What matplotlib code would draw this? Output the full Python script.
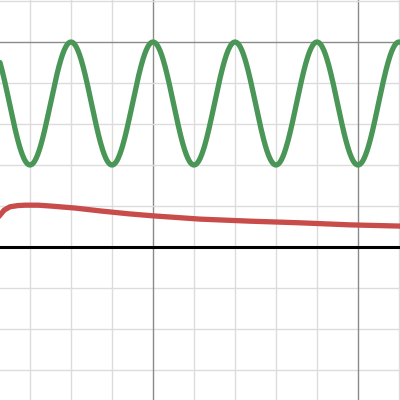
import numpy as np
import matplotlib
matplotlib.use("Agg")
import matplotlib.pyplot as plt

# green: periodic curve parameters (offset, amplitude, period)
green_offset = 3.5
green_amp = 1.5
green_period = 2.0

red_x = [-3.73, -3.63, -3.49, -3.30, -3.12, -2.80, -2.51, -1.90, -1.29, -0.60, 0.0, 1.15, 2.37, 3.59, 4.80, 6.02]
red_y = [0.78, 0.90, 0.98, 1.01, 1.02, 1.02, 1.00, 0.95, 0.88, 0.81, 0.76, 0.68, 0.63, 0.59, 0.54, 0.51]

fig = plt.figure(figsize=(4, 4), dpi=100)
ax = fig.add_axes([0, 0, 1, 1])
xmin, xmax = -153/41, 247/41
ymin, ymax = -153/41, 247/41
ax.set_xlim(xmin, xmax)
ax.set_ylim(ymin, ymax)

for v in np.arange(-4, 7):
    major = v % 5 == 0
    ax.axvline(v, color="#8a8a8a" if major else "#dcdcdc", lw=1.0, zorder=0)
    ax.axhline(v, color="#8a8a8a" if major else "#dcdcdc", lw=1.0, zorder=0)
ax.axhline(0, color="black", lw=2.2, zorder=1)

gx = np.linspace(xmin, xmax, 800)
ax.plot(gx, green_offset + green_amp*np.cos(2*np.pi*gx/green_period), color="#4a9656", lw=3.8, solid_capstyle="round", zorder=3)
ax.plot(red_x, red_y, color="#c74c4a", lw=3.8, zorder=3)
ax.axis("off")
fig.savefig("out.png", dpi=100)
